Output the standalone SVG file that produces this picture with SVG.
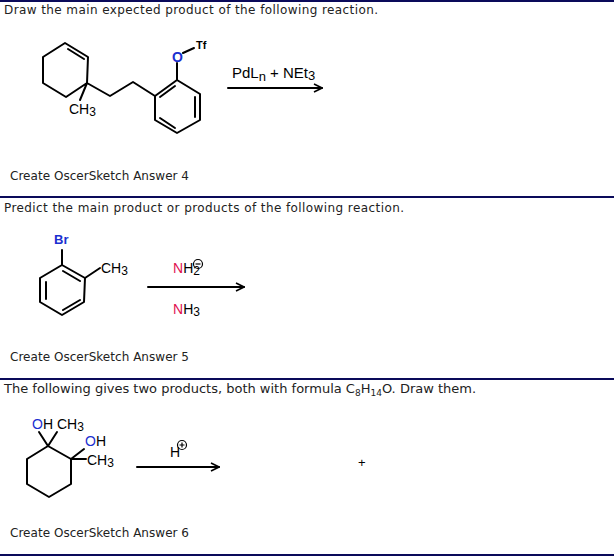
<svg xmlns="http://www.w3.org/2000/svg" width="614" height="559" viewBox="0 0 614 559">
<style>
.t{font-family:"DejaVu Sans",Verdana,sans-serif;font-size:12px;fill:#222}
.a{font-family:"Liberation Sans",Arial,sans-serif;font-size:14px;fill:#000}
.b{fill:none;stroke:#000;stroke-width:2;stroke-linejoin:round;stroke-linecap:round}
.r{stroke:#0a0a5a;stroke-width:2}
.bl{fill:#1a2fd0}.rd{fill:#e0104f}
</style>
<defs><marker id="ah" markerWidth="10" markerHeight="10" refX="9" refY="5" orient="auto" markerUnits="userSpaceOnUse"><path d="M1,1 L9,5 L1,9" fill="none" stroke="#000" stroke-width="1.6"/></marker></defs>
<g id="rules"><line class="r" x1="0" y1="1" x2="614" y2="1"/><line class="r" x1="0" y1="197" x2="614" y2="197"/><line class="r" x1="0" y1="379" x2="614" y2="379"/><line class="r" x1="0" y1="555" x2="614" y2="555"/></g>
<g id="texts">
<text class="t" x="4" y="14" textLength="374">Draw the main expected product of the following reaction.</text>
<text class="t" x="10" y="180" textLength="179">Create OscerSketch Answer 4</text>
<text class="t" x="4" y="212" textLength="400">Predict the main product or products of the following reaction.</text>
<text class="t" x="10" y="361" textLength="179">Create OscerSketch Answer 5</text>
<text class="t" x="4" y="393" style="font-size:13px">The following gives two products, both with formula C<tspan style="font-size:9px" dy="3">8</tspan><tspan dy="-3">H</tspan><tspan style="font-size:9px" dy="3">14</tspan><tspan dy="-3">O. Draw them.</tspan></text>
<text class="t" x="10" y="537" textLength="179">Create OscerSketch Answer 6</text>
</g>
<g id="mol1">
<path class="b" d="M65,43 L88,57 L87,83 L66,97 L43,83 L43,57 Z M68,49 L84,59 M87,83 L110,96 L133,82 L155,96 M87,83 L80,100"/>
<path class="b" d="M177,80 L200,94 L200,120 L177,133 L155,120 L155,96 Z M175,86 L160,97 M195,97 L195,117 M175,128 L160,118 M177,80 L177,63 M183,53 L194,48"/>
<text class="a" x="69" y="114">CH<tspan font-size="12" dy="2">3</tspan></text>
<text class="a bl" x="172" y="62" font-weight="bold">O</text>
<text class="a" x="196" y="49" style="font-size:11px" font-weight="bold">Tf</text>
</g>
<g id="mol2">
<path class="b" d="M62,265 L85,278 L84,302 L62,315 L40,302 L40,278 Z M46,282 L46,299 M63,271 L80,281 M80,300 L63,310 M62,265 L62,250 M85,278 L100,268"/>
<text class="a bl" x="54" y="244" font-weight="bold" style="font-size:13px">Br</text>
<text class="a" x="101" y="273">CH<tspan font-size="12" dy="2">3</tspan></text>
</g>
<g id="mol3">
<path class="b" d="M48,446 L71,459 L71,484 L49,497 L27,484 L27,459 Z M48,446 L39,432 M48,446 L57,432 M71,459 L84,449 M71,459 L86,459"/>
<text class="a" x="32" y="429"><tspan class="bl">O</tspan>H CH<tspan font-size="12" dy="2">3</tspan></text>
<text class="a" x="85" y="446"><tspan class="bl">O</tspan>H</text>
<text class="a" x="87" y="465">CH<tspan font-size="12" dy="2">3</tspan></text>
</g>
<g id="connectors">
<line class="b" x1="228" y1="88" x2="322" y2="88" stroke-width="1.6" marker-end="url(#ah)"/>
<line class="b" x1="148" y1="287" x2="244" y2="287" stroke-width="1.6" marker-end="url(#ah)"/>
<line class="b" x1="137" y1="467" x2="219" y2="467" stroke-width="1.6" marker-end="url(#ah)"/>
</g>
<g id="labels">
<text class="a" x="232" y="78" style="font-size:15px">PdL<tspan style="font-size:13px" dy="3">n</tspan><tspan dy="-3"> + NEt</tspan><tspan style="font-size:13px" dy="2">3</tspan></text>
<text class="a" x="173" y="273"><tspan class="rd">N</tspan>H<tspan font-size="12" dy="2">2</tspan></text>
<circle cx="198" cy="264" r="4.5" fill="none" stroke="#000" stroke-width="1.2"/><line x1="195.5" y1="264" x2="200.5" y2="264" stroke="#000" stroke-width="1.2"/>
<text class="a" x="173" y="314"><tspan class="rd">N</tspan>H<tspan font-size="12" dy="2">3</tspan></text>
<text class="a" x="170" y="457">H</text>
<circle cx="182" cy="445" r="4.5" fill="none" stroke="#000" stroke-width="1.2"/><path d="M179.5,445 H184.5 M182,442.5 V447.5" stroke="#000" stroke-width="1.2"/>
<text class="a" x="358" y="467" style="font-size:13px">+</text>
</g>
</svg>
